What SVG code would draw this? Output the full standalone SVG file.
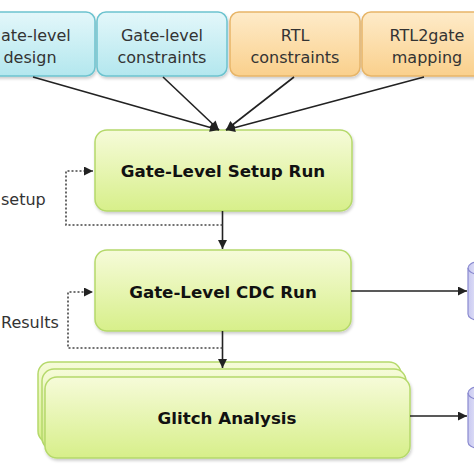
<svg xmlns="http://www.w3.org/2000/svg" width="474" height="474" viewBox="0 0 474 474">
<defs>
<linearGradient id="gBlue" x1="0" y1="0" x2="0" y2="1"><stop offset="0" stop-color="#e3f7fa"/><stop offset="1" stop-color="#b3e7ee"/></linearGradient>
<linearGradient id="gOrange" x1="0" y1="0" x2="0" y2="1"><stop offset="0" stop-color="#feebc9"/><stop offset="1" stop-color="#fad08c"/></linearGradient>
<linearGradient id="gGreen" x1="0" y1="0" x2="0" y2="1"><stop offset="0" stop-color="#f6fbd9"/><stop offset="1" stop-color="#d7ef8a"/></linearGradient>
<linearGradient id="gCyl" x1="0" y1="0" x2="1" y2="0"><stop offset="0" stop-color="#c9c9f0"/><stop offset="0.5" stop-color="#e4e4fa"/><stop offset="1" stop-color="#c9c9f0"/></linearGradient>
<filter id="sh" x="-10%" y="-10%" width="120%" height="130%"><feDropShadow dx="1" dy="2" stdDeviation="1.5" flood-color="#000" flood-opacity="0.2"/></filter>
<marker id="ah" viewBox="0 0 10 10" refX="10" refY="5" markerWidth="10" markerHeight="9" markerUnits="userSpaceOnUse" orient="auto"><path d="M0,0 L10,5 L0,10 z" fill="#222"/></marker>
</defs>
<style>
.blue{fill:url(#gBlue);stroke:#6cc3cf;stroke-width:1.5}
.orange{fill:url(#gOrange);stroke:#e7b568;stroke-width:1.5}
.green{fill:url(#gGreen);stroke:#b5d96b;stroke-width:1.5}
.cyl{fill:url(#gCyl);stroke:#8a8ad0;stroke-width:1.2}
.t{font-family:"DejaVu Sans",Verdana,sans-serif;font-size:16px;fill:#333;text-anchor:middle}
.b{font-family:"DejaVu Sans",Verdana,sans-serif;font-size:16.7px;font-weight:bold;fill:#111;text-anchor:middle}
.side{font-family:"DejaVu Sans",Verdana,sans-serif;font-size:16px;fill:#333}
.ln{stroke:#222;stroke-width:1.6;fill:none;marker-end:url(#ah)}
.dot{stroke:#444;stroke-width:1.6;fill:none;stroke-dasharray:2 2;marker-end:url(#ah)}
</style>
<rect width="474" height="474" fill="#fff"/>
<g id="n-gate-design"><rect class="blue" x="-35" y="12" width="130" height="64" rx="9" filter="url(#sh)"/><text class="side" x="1" y="41">ate-level</text><text class="t" x="30" y="63">design</text></g>
<g id="n-gate-constraints"><rect class="blue" x="97" y="12" width="130" height="64" rx="9" filter="url(#sh)"/><text class="t" x="162" y="41">Gate-level</text><text class="t" x="162" y="63">constraints</text></g>
<g id="n-rtl-constraints"><rect class="orange" x="230" y="12" width="130" height="64" rx="9" filter="url(#sh)"/><text class="t" x="295" y="41">RTL</text><text class="t" x="295" y="63">constraints</text></g>
<g id="n-rtl2gate"><rect class="orange" x="362" y="12" width="130" height="64" rx="9" filter="url(#sh)"/><text class="t" x="427" y="41">RTL2gate</text><text class="t" x="427" y="63">mapping</text></g>
<g id="n-setup"><rect class="green" x="95" y="130" width="257" height="81" rx="12" filter="url(#sh)"/><text class="b" x="223" y="177">Gate-Level Setup Run</text></g>
<g id="n-cdc"><rect class="green" x="95" y="250" width="256" height="81" rx="12" filter="url(#sh)"/><text class="b" x="223" y="298">Gate-Level CDC Run</text></g>
<g id="n-glitch"><rect class="green" x="38" y="362" width="363" height="81" rx="12"/><rect class="green" x="42" y="369" width="364" height="81" rx="12"/><rect class="green" x="45" y="377" width="365" height="81" rx="12" filter="url(#sh)"/><text class="b" x="227" y="424">Glitch Analysis</text></g>
<g id="n-db1"><path class="cyl" d="M468,268 a10,6 0 0 1 20,0 v46 a10,6 0 0 1 -20,0 z"/><path d="M468,268 a10,6 0 0 0 20,0" fill="none" stroke="#8a8ad0" stroke-width="1.2"/></g>
<g id="n-db2"><path class="cyl" d="M468,393 a10,6 0 0 1 20,0 v49 a10,6 0 0 1 -20,0 z"/><path d="M468,393 a10,6 0 0 0 20,0" fill="none" stroke="#8a8ad0" stroke-width="1.2"/></g>
<g id="labels"><text class="side" x="1" y="205">setup</text><text class="side" x="1" y="328">Results</text></g>
<g id="connectors">
<line class="ln" x1="33" y1="77" x2="219" y2="130"/>
<line class="ln" x1="163" y1="77" x2="219" y2="130"/>
<line class="ln" x1="294" y1="77" x2="226" y2="130"/>
<line class="ln" x1="424" y1="77" x2="226" y2="130"/>
<line class="ln" x1="222.5" y1="211" x2="222.5" y2="249"/>
<line class="ln" x1="222.5" y1="331" x2="222.5" y2="368"/>
<line class="ln" x1="351" y1="291" x2="467" y2="291"/>
<line class="ln" x1="410" y1="416" x2="467" y2="416"/>
<polyline class="dot" points="222.5,225 66,225 66,171 93,171"/>
<polyline class="dot" points="222.5,348 68,348 68,292 93,292"/>
</g>
</svg>
